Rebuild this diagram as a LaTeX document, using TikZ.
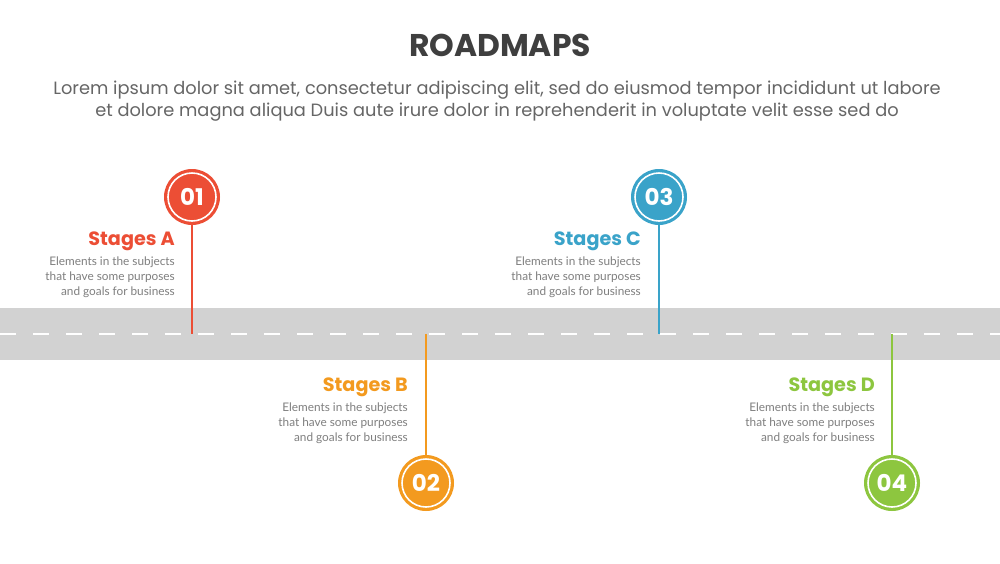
\documentclass[tikz,border=0pt]{standalone}
\usepackage{fontspec}
\newfontfamily\pop{Poppins}
\newfontfamily\lat{Lato}
\definecolor{cA}{HTML}{EC4E35}
\definecolor{cB}{HTML}{F39A1F}
\definecolor{cC}{HTML}{3AA3C9}
\definecolor{cD}{HTML}{8DC63F}
\definecolor{road}{HTML}{D2D2D2}
\definecolor{ttl}{HTML}{3F3F3F}
\definecolor{hdr}{HTML}{666666}
\definecolor{dsc}{HTML}{7F7F7F}
\tikzset{
  num/.style={circle, fill=#1, minimum size=56pt, inner sep=0pt, text=white,
    font=\pop\bfseries\fontsize{23}{25}\selectfont,
    path picture={\draw[white, line width=1.6pt] (path picture bounding box.center) circle (24pt);}},
  stem/.style={draw=#1, line width=2.2pt},
  stagettl/.style={text=#1, font=\pop\bfseries\fontsize{19.2}{21}\selectfont, inner sep=0pt, anchor=base east},
  stagedsc/.style={text=dsc, font=\lat\fontsize{11.8}{15}\selectfont, align=right, inner sep=0pt, anchor=north east},
}
\begin{document}
\begin{tikzpicture}[x=1pt,y=-1pt]
\useasboundingbox[fill=white] (0,0) rectangle (1000,563);
% road
\fill[road] (0,308) rectangle (1000,360);
\draw[white, line width=2pt, dash pattern=on 16pt off 17pt] (0,334) -- (1000,334);
% title
\node[font=\pop\bfseries\fontsize{31.4}{33}\selectfont, text=ttl] (title) at (500,45) {ROADMAPS};
\node[font=\pop\fontsize{17.8}{22}\selectfont, text=hdr, align=center] (hdr) at (497,101.5)
  {Lorem ipsum dolor sit amet, consectetur adipiscing elit, sed do eiusmod tempor incididunt ut labore\\
   et dolore magna aliqua Duis aute irure dolor in reprehenderit in voluptate velit esse sed do};
% road coordinates
\coordinate (r1) at (192,334);
\coordinate (r2) at (426,334);
\coordinate (r3) at (659,334);
\coordinate (r4) at (892,334);
% circles
\node[num=cA] (c1) at (192,197) {01};
\node[num=cB] (c2) at (426,483) {02};
\node[num=cC] (c3) at (659,197) {03};
\node[num=cD] (c4) at (892,483) {04};
% stems
\draw[stem=cA] (c1.south) -- (r1);
\draw[stem=cB] (r2) -- (c2.north);
\draw[stem=cC] (c3.south) -- (r3);
\draw[stem=cD] (r4) -- (c4.north);
% texts
\node[stagettl=cA] (tA) at (175,245) {Stages A};
\node[stagedsc] (dA) at (175,257) {Elements in the subjects\\that have some purposes\\and goals for business};
\node[stagettl=cB] (tB) at (408,391) {Stages B};
\node[stagedsc] (dB) at (408,403) {Elements in the subjects\\that have some purposes\\and goals for business};
\node[stagettl=cC] (tC) at (641,245) {Stages C};
\node[stagedsc] (dC) at (641,257) {Elements in the subjects\\that have some purposes\\and goals for business};
\node[stagettl=cD] (tD) at (875,391) {Stages D};
\node[stagedsc] (dD) at (875,403) {Elements in the subjects\\that have some purposes\\and goals for business};
\end{tikzpicture}
\end{document}
